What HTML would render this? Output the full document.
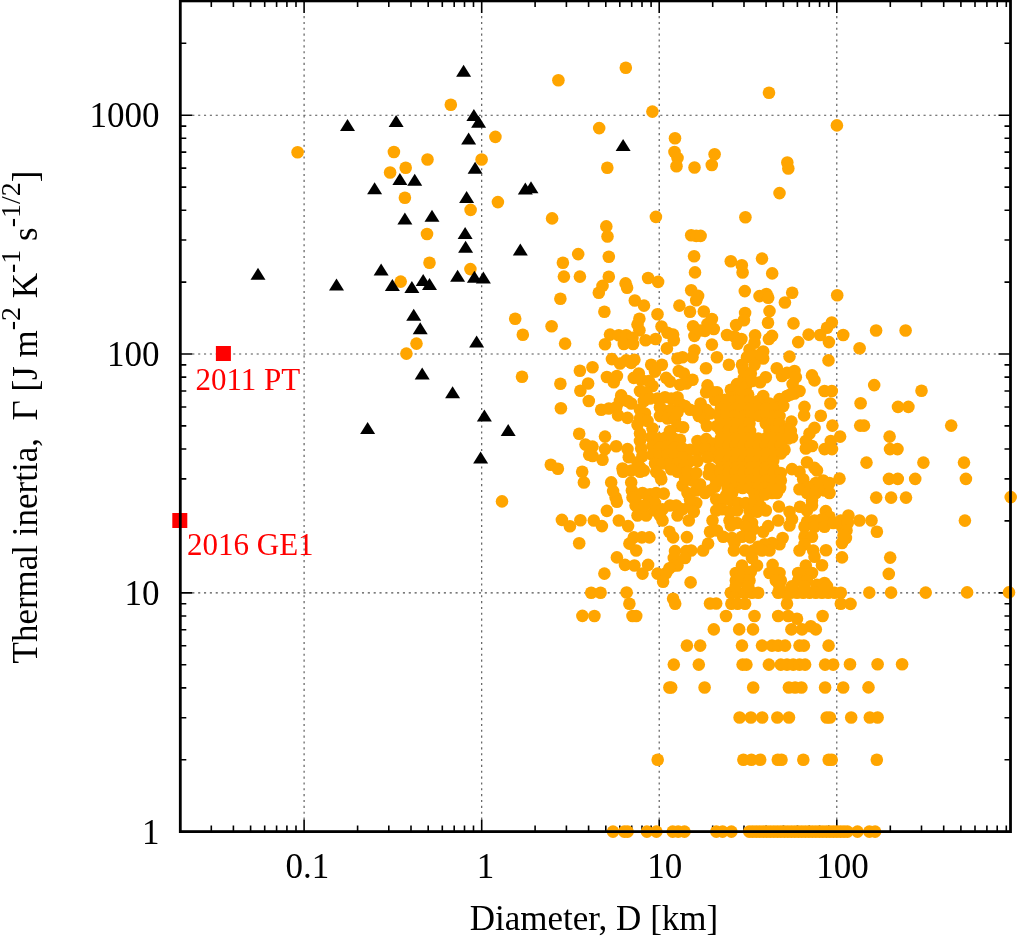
<!DOCTYPE html>
<html><head><meta charset="utf-8"><title>Thermal inertia vs diameter</title>
<style>
html,body{margin:0;padding:0;background:#fff;}
body{width:1017px;height:936px;overflow:hidden;}
svg{display:block;}
text{font-family:"Liberation Serif","Times New Roman",serif;fill:#000;}
</style></head><body>
<svg width="1017" height="936" viewBox="0 0 1017 936">
<rect width="1017" height="936" fill="#fff"/>
<g stroke="#505050" stroke-width="1.1" stroke-dasharray="2.1 3.75" fill="none">
<line x1="304.1" y1="819.6" x2="304.1" y2="12.9"/>
<line x1="481.7" y1="819.6" x2="481.7" y2="12.9"/>
<line x1="659.2" y1="819.6" x2="659.2" y2="12.9"/>
<line x1="836.8" y1="819.6" x2="836.8" y2="12.9"/>
<line x1="192.3" y1="592.9" x2="998.5" y2="592.9"/>
<line x1="192.3" y1="354.0" x2="998.5" y2="354.0"/>
<line x1="192.3" y1="115.2" x2="998.5" y2="115.2"/>
</g>
<path d="M211.3 831.6v-6M211.3 0.9v6M233.4 831.6v-6M233.4 0.9v6M250.6 831.6v-6M250.6 0.9v6M264.7 831.6v-6M264.7 0.9v6M276.6 831.6v-6M276.6 0.9v6M286.9 831.6v-6M286.9 0.9v6M296.0 831.6v-6M296.0 0.9v6M304.1 831.6v-12M304.1 0.9v12M357.6 831.6v-6M357.6 0.9v6M388.8 831.6v-6M388.8 0.9v6M411.0 831.6v-6M411.0 0.9v6M428.2 831.6v-6M428.2 0.9v6M442.3 831.6v-6M442.3 0.9v6M454.2 831.6v-6M454.2 0.9v6M464.5 831.6v-6M464.5 0.9v6M473.5 831.6v-6M473.5 0.9v6M481.7 831.6v-12M481.7 0.9v12M535.1 831.6v-6M535.1 0.9v6M566.4 831.6v-6M566.4 0.9v6M588.6 831.6v-6M588.6 0.9v6M605.8 831.6v-6M605.8 0.9v6M619.8 831.6v-6M619.8 0.9v6M631.7 831.6v-6M631.7 0.9v6M642.0 831.6v-6M642.0 0.9v6M651.1 831.6v-6M651.1 0.9v6M659.2 831.6v-12M659.2 0.9v12M712.7 831.6v-6M712.7 0.9v6M744.0 831.6v-6M744.0 0.9v6M766.1 831.6v-6M766.1 0.9v6M783.4 831.6v-6M783.4 0.9v6M797.4 831.6v-6M797.4 0.9v6M809.3 831.6v-6M809.3 0.9v6M819.6 831.6v-6M819.6 0.9v6M828.7 831.6v-6M828.7 0.9v6M836.8 831.6v-12M836.8 0.9v12M890.3 831.6v-6M890.3 0.9v6M921.5 831.6v-6M921.5 0.9v6M943.7 831.6v-6M943.7 0.9v6M960.9 831.6v-6M960.9 0.9v6M975.0 831.6v-6M975.0 0.9v6M986.9 831.6v-6M986.9 0.9v6M997.2 831.6v-6M997.2 0.9v6M1006.3 831.6v-6M1006.3 0.9v6M180.3 759.8h6M1010.5 759.8h-6M180.3 717.7h6M1010.5 717.7h-6M180.3 687.9h6M1010.5 687.9h-6M180.3 664.8h6M1010.5 664.8h-6M180.3 645.8h6M1010.5 645.8h-6M180.3 629.8h6M1010.5 629.8h-6M180.3 616.0h6M1010.5 616.0h-6M180.3 603.8h6M1010.5 603.8h-6M180.3 592.9h12M1010.5 592.9h-12M180.3 520.9h6M1010.5 520.9h-6M180.3 478.9h6M1010.5 478.9h-6M180.3 449.0h6M1010.5 449.0h-6M180.3 425.9h6M1010.5 425.9h-6M180.3 407.0h6M1010.5 407.0h-6M180.3 391.0h6M1010.5 391.0h-6M180.3 377.1h6M1010.5 377.1h-6M180.3 364.9h6M1010.5 364.9h-6M180.3 354.0h12M1010.5 354.0h-12M180.3 282.1h6M1010.5 282.1h-6M180.3 240.0h6M1010.5 240.0h-6M180.3 210.2h6M1010.5 210.2h-6M180.3 187.1h6M1010.5 187.1h-6M180.3 168.1h6M1010.5 168.1h-6M180.3 152.1h6M1010.5 152.1h-6M180.3 138.3h6M1010.5 138.3h-6M180.3 126.1h6M1010.5 126.1h-6M180.3 115.2h12M1010.5 115.2h-12M180.3 43.2h6M1010.5 43.2h-6" stroke="#000" stroke-width="1.6" fill="none"/>
<g fill="#ffa500">
<circle cx="607.5" cy="236.5" r="6.3"/><circle cx="608.8" cy="256.8" r="6.3"/><circle cx="608.8" cy="276.8" r="6.3"/><circle cx="602.5" cy="285.9" r="6.3"/><circle cx="598.8" cy="292.8" r="6.3"/><circle cx="604.4" cy="311.8" r="6.3"/><circle cx="625.6" cy="283.4" r="6.3"/><circle cx="627.1" cy="287.8" r="6.3"/><circle cx="648.1" cy="278.0" r="6.3"/><circle cx="658.1" cy="281.9" r="6.3"/><circle cx="634.8" cy="300.5" r="6.3"/><circle cx="644.0" cy="305.6" r="6.3"/><circle cx="657.5" cy="314.2" r="6.3"/><circle cx="639.4" cy="318.8" r="6.3"/><circle cx="637.5" cy="324.6" r="6.3"/><circle cx="639.4" cy="330.2" r="6.3"/><circle cx="661.5" cy="326.5" r="6.3"/><circle cx="667.5" cy="332.8" r="6.3"/><circle cx="673.1" cy="334.6" r="6.3"/><circle cx="673.8" cy="340.2" r="6.3"/><circle cx="666.9" cy="348.4" r="6.3"/><circle cx="610.0" cy="334.6" r="6.3"/><circle cx="618.8" cy="335.2" r="6.3"/><circle cx="626.2" cy="335.2" r="6.3"/><circle cx="632.5" cy="337.8" r="6.3"/><circle cx="605.0" cy="344.2" r="6.3"/><circle cx="623.8" cy="344.0" r="6.3"/><circle cx="633.1" cy="344.0" r="6.3"/><circle cx="645.6" cy="340.2" r="6.3"/><circle cx="655.6" cy="339.0" r="6.3"/><circle cx="691.2" cy="235.2" r="6.3"/><circle cx="696.2" cy="235.9" r="6.3"/><circle cx="700.6" cy="235.9" r="6.3"/><circle cx="694.1" cy="256.2" r="6.3"/><circle cx="695.0" cy="272.4" r="6.3"/><circle cx="691.2" cy="290.2" r="6.3"/><circle cx="698.1" cy="295.9" r="6.3"/><circle cx="696.2" cy="300.2" r="6.3"/><circle cx="679.4" cy="305.6" r="6.3"/><circle cx="690.0" cy="311.8" r="6.3"/><circle cx="703.8" cy="311.5" r="6.3"/><circle cx="711.9" cy="319.0" r="6.3"/><circle cx="707.5" cy="324.0" r="6.3"/><circle cx="713.8" cy="329.0" r="6.3"/><circle cx="705.0" cy="330.9" r="6.3"/><circle cx="693.1" cy="326.2" r="6.3"/><circle cx="694.4" cy="335.9" r="6.3"/><circle cx="711.9" cy="344.6" r="6.3"/><circle cx="694.4" cy="350.2" r="6.3"/><circle cx="730.8" cy="261.2" r="6.3"/><circle cx="741.8" cy="265.2" r="6.3"/><circle cx="742.6" cy="272.5" r="6.3"/><circle cx="762.0" cy="258.6" r="6.3"/><circle cx="772.2" cy="273.4" r="6.3"/><circle cx="744.8" cy="291.1" r="6.3"/><circle cx="759.5" cy="296.1" r="6.3"/><circle cx="766.4" cy="294.0" r="6.3"/><circle cx="768.2" cy="297.8" r="6.3"/><circle cx="792.2" cy="292.8" r="6.3"/><circle cx="784.9" cy="302.5" r="6.3"/><circle cx="837.2" cy="295.2" r="6.3"/><circle cx="745.1" cy="313.0" r="6.3"/><circle cx="743.9" cy="320.2" r="6.3"/><circle cx="736.1" cy="325.0" r="6.3"/><circle cx="769.5" cy="311.1" r="6.3"/><circle cx="768.0" cy="322.8" r="6.3"/><circle cx="793.5" cy="323.4" r="6.3"/><circle cx="727.0" cy="335.0" r="6.3"/><circle cx="734.5" cy="336.5" r="6.3"/><circle cx="741.4" cy="339.0" r="6.3"/><circle cx="737.6" cy="343.8" r="6.3"/><circle cx="755.1" cy="335.2" r="6.3"/><circle cx="754.5" cy="342.8" r="6.3"/><circle cx="749.5" cy="349.6" r="6.3"/><circle cx="772.0" cy="335.9" r="6.3"/><circle cx="768.9" cy="339.0" r="6.3"/><circle cx="798.2" cy="342.1" r="6.3"/><circle cx="808.6" cy="334.6" r="6.3"/><circle cx="820.1" cy="335.0" r="6.3"/><circle cx="827.0" cy="327.8" r="6.3"/><circle cx="831.8" cy="322.5" r="6.3"/><circle cx="828.9" cy="342.1" r="6.3"/><circle cx="843.2" cy="335.0" r="6.3"/><circle cx="763.2" cy="351.5" r="6.3"/><circle cx="592.5" cy="367.2" r="6.3"/><circle cx="588.1" cy="383.5" r="6.3"/><circle cx="588.8" cy="401.0" r="6.3"/><circle cx="611.9" cy="359.1" r="6.3"/><circle cx="620.0" cy="363.5" r="6.3"/><circle cx="626.2" cy="360.4" r="6.3"/><circle cx="631.2" cy="362.9" r="6.3"/><circle cx="634.4" cy="359.8" r="6.3"/><circle cx="606.9" cy="377.0" r="6.3"/><circle cx="616.9" cy="376.0" r="6.3"/><circle cx="613.8" cy="382.2" r="6.3"/><circle cx="651.2" cy="364.8" r="6.3"/><circle cx="661.9" cy="364.8" r="6.3"/><circle cx="655.0" cy="371.6" r="6.3"/><circle cx="633.8" cy="377.9" r="6.3"/><circle cx="638.8" cy="373.5" r="6.3"/><circle cx="641.2" cy="379.8" r="6.3"/><circle cx="648.8" cy="381.0" r="6.3"/><circle cx="652.5" cy="386.0" r="6.3"/><circle cx="640.0" cy="391.0" r="6.3"/><circle cx="646.2" cy="392.2" r="6.3"/><circle cx="621.2" cy="395.4" r="6.3"/><circle cx="620.0" cy="401.0" r="6.3"/><circle cx="627.5" cy="401.0" r="6.3"/><circle cx="631.2" cy="403.5" r="6.3"/><circle cx="601.2" cy="409.8" r="6.3"/><circle cx="608.8" cy="408.5" r="6.3"/><circle cx="616.2" cy="407.2" r="6.3"/><circle cx="618.1" cy="415.4" r="6.3"/><circle cx="627.5" cy="417.9" r="6.3"/><circle cx="677.5" cy="358.5" r="6.3"/><circle cx="682.5" cy="357.2" r="6.3"/><circle cx="692.5" cy="357.2" r="6.3"/><circle cx="678.8" cy="371.0" r="6.3"/><circle cx="683.8" cy="373.5" r="6.3"/><circle cx="692.5" cy="379.8" r="6.3"/><circle cx="686.2" cy="383.5" r="6.3"/><circle cx="680.0" cy="384.8" r="6.3"/><circle cx="670.0" cy="381.6" r="6.3"/><circle cx="666.2" cy="377.9" r="6.3"/><circle cx="706.0" cy="368.2" r="6.3"/><circle cx="716.9" cy="357.2" r="6.3"/><circle cx="707.5" cy="385.4" r="6.3"/><circle cx="706.2" cy="392.2" r="6.3"/><circle cx="713.1" cy="392.2" r="6.3"/><circle cx="715.0" cy="399.8" r="6.3"/><circle cx="700.6" cy="403.5" r="6.3"/><circle cx="706.2" cy="409.8" r="6.3"/><circle cx="710.0" cy="413.5" r="6.3"/><circle cx="703.8" cy="418.5" r="6.3"/><circle cx="706.9" cy="426.0" r="6.3"/><circle cx="698.8" cy="416.0" r="6.3"/><circle cx="643.8" cy="401.0" r="6.3"/><circle cx="650.0" cy="398.5" r="6.3"/><circle cx="657.5" cy="398.5" r="6.3"/><circle cx="665.0" cy="397.2" r="6.3"/><circle cx="671.2" cy="398.5" r="6.3"/><circle cx="677.5" cy="397.2" r="6.3"/><circle cx="680.0" cy="403.5" r="6.3"/><circle cx="685.0" cy="406.0" r="6.3"/><circle cx="690.0" cy="409.8" r="6.3"/><circle cx="696.2" cy="411.0" r="6.3"/><circle cx="660.0" cy="407.2" r="6.3"/><circle cx="665.0" cy="411.0" r="6.3"/><circle cx="671.2" cy="409.8" r="6.3"/><circle cx="677.5" cy="412.2" r="6.3"/><circle cx="660.0" cy="416.0" r="6.3"/><circle cx="667.5" cy="418.5" r="6.3"/><circle cx="675.0" cy="419.1" r="6.3"/><circle cx="640.0" cy="409.8" r="6.3"/><circle cx="645.0" cy="413.5" r="6.3"/><circle cx="640.0" cy="418.5" r="6.3"/><circle cx="647.5" cy="421.0" r="6.3"/><circle cx="637.5" cy="424.8" r="6.3"/><circle cx="652.5" cy="428.5" r="6.3"/><circle cx="677.5" cy="426.0" r="6.3"/><circle cx="683.1" cy="427.2" r="6.3"/><circle cx="670.0" cy="431.0" r="6.3"/><circle cx="605.0" cy="436.6" r="6.3"/><circle cx="592.5" cy="446.6" r="6.3"/><circle cx="605.0" cy="449.1" r="6.3"/><circle cx="616.2" cy="446.2" r="6.3"/><circle cx="627.5" cy="449.1" r="6.3"/><circle cx="628.8" cy="457.2" r="6.3"/><circle cx="602.5" cy="459.8" r="6.3"/><circle cx="592.5" cy="456.0" r="6.3"/><circle cx="640.0" cy="433.5" r="6.3"/><circle cx="640.0" cy="441.0" r="6.3"/><circle cx="641.2" cy="448.5" r="6.3"/><circle cx="642.5" cy="456.0" r="6.3"/><circle cx="637.5" cy="462.2" r="6.3"/><circle cx="640.0" cy="467.2" r="6.3"/><circle cx="651.2" cy="437.2" r="6.3"/><circle cx="658.8" cy="438.5" r="6.3"/><circle cx="666.2" cy="437.2" r="6.3"/><circle cx="673.8" cy="438.5" r="6.3"/><circle cx="680.0" cy="439.8" r="6.3"/><circle cx="652.5" cy="446.0" r="6.3"/><circle cx="660.0" cy="447.2" r="6.3"/><circle cx="667.5" cy="446.0" r="6.3"/><circle cx="675.0" cy="447.2" r="6.3"/><circle cx="682.5" cy="448.5" r="6.3"/><circle cx="690.0" cy="449.8" r="6.3"/><circle cx="697.5" cy="451.0" r="6.3"/><circle cx="652.5" cy="454.8" r="6.3"/><circle cx="660.0" cy="456.0" r="6.3"/><circle cx="667.5" cy="454.8" r="6.3"/><circle cx="675.0" cy="456.0" r="6.3"/><circle cx="682.5" cy="457.2" r="6.3"/><circle cx="690.0" cy="461.0" r="6.3"/><circle cx="655.0" cy="463.5" r="6.3"/><circle cx="662.5" cy="463.5" r="6.3"/><circle cx="670.0" cy="463.5" r="6.3"/><circle cx="677.5" cy="463.5" r="6.3"/><circle cx="685.0" cy="464.8" r="6.3"/><circle cx="697.5" cy="461.0" r="6.3"/><circle cx="697.5" cy="441.0" r="6.3"/><circle cx="706.2" cy="439.1" r="6.3"/><circle cx="712.5" cy="443.5" r="6.3"/><circle cx="705.0" cy="448.5" r="6.3"/><circle cx="713.8" cy="452.2" r="6.3"/><circle cx="716.9" cy="426.0" r="6.3"/><circle cx="716.9" cy="457.2" r="6.3"/><circle cx="622.5" cy="468.5" r="6.3"/><circle cx="710.0" cy="468.5" r="6.3"/><circle cx="707.5" cy="457.2" r="6.3"/><circle cx="728.9" cy="364.8" r="6.3"/><circle cx="747.0" cy="357.2" r="6.3"/><circle cx="754.5" cy="356.0" r="6.3"/><circle cx="763.2" cy="358.5" r="6.3"/><circle cx="754.5" cy="364.8" r="6.3"/><circle cx="742.0" cy="364.8" r="6.3"/><circle cx="789.5" cy="356.6" r="6.3"/><circle cx="828.5" cy="360.4" r="6.3"/><circle cx="776.8" cy="368.2" r="6.3"/><circle cx="782.0" cy="376.0" r="6.3"/><circle cx="787.0" cy="372.9" r="6.3"/><circle cx="794.5" cy="371.0" r="6.3"/><circle cx="795.8" cy="377.2" r="6.3"/><circle cx="792.6" cy="384.1" r="6.3"/><circle cx="765.8" cy="377.2" r="6.3"/><circle cx="760.1" cy="382.2" r="6.3"/><circle cx="812.0" cy="375.4" r="6.3"/><circle cx="814.5" cy="380.4" r="6.3"/><circle cx="824.5" cy="391.0" r="6.3"/><circle cx="831.8" cy="391.0" r="6.3"/><circle cx="830.4" cy="403.5" r="6.3"/><circle cx="799.5" cy="391.0" r="6.3"/><circle cx="794.5" cy="393.5" r="6.3"/><circle cx="787.0" cy="396.0" r="6.3"/><circle cx="779.5" cy="399.1" r="6.3"/><circle cx="804.5" cy="406.9" r="6.3"/><circle cx="804.1" cy="415.4" r="6.3"/><circle cx="820.8" cy="415.8" r="6.3"/><circle cx="832.4" cy="425.6" r="6.3"/><circle cx="840.1" cy="436.6" r="6.3"/><circle cx="791.4" cy="421.6" r="6.3"/><circle cx="814.5" cy="427.9" r="6.3"/><circle cx="809.5" cy="433.5" r="6.3"/><circle cx="805.8" cy="441.0" r="6.3"/><circle cx="812.0" cy="446.0" r="6.3"/><circle cx="805.8" cy="448.5" r="6.3"/><circle cx="830.8" cy="441.0" r="6.3"/><circle cx="824.5" cy="449.1" r="6.3"/><circle cx="832.0" cy="449.1" r="6.3"/><circle cx="807.0" cy="462.2" r="6.3"/><circle cx="814.5" cy="467.9" r="6.3"/><circle cx="792.0" cy="469.1" r="6.3"/><circle cx="743.9" cy="377.9" r="6.3"/><circle cx="737.0" cy="384.1" r="6.3"/><circle cx="730.8" cy="389.8" r="6.3"/><circle cx="745.8" cy="387.2" r="6.3"/><circle cx="717.0" cy="392.2" r="6.3"/><circle cx="763.2" cy="396.0" r="6.3"/><circle cx="758.2" cy="401.0" r="6.3"/><circle cx="769.5" cy="403.5" r="6.3"/><circle cx="777.0" cy="407.2" r="6.3"/><circle cx="783.2" cy="406.0" r="6.3"/><circle cx="787.0" cy="428.5" r="6.3"/><circle cx="792.0" cy="437.2" r="6.3"/><circle cx="784.5" cy="449.8" r="6.3"/><circle cx="743.9" cy="371.0" r="6.3"/><circle cx="748.2" cy="394.8" r="6.3"/><circle cx="739.5" cy="393.5" r="6.3"/><circle cx="732.0" cy="397.2" r="6.3"/><circle cx="724.5" cy="399.8" r="6.3"/><circle cx="719.5" cy="401.0" r="6.3"/><circle cx="727.0" cy="401.0" r="6.3"/><circle cx="734.5" cy="401.0" r="6.3"/><circle cx="742.0" cy="401.0" r="6.3"/><circle cx="749.5" cy="401.0" r="6.3"/><circle cx="720.8" cy="408.5" r="6.3"/><circle cx="728.2" cy="408.5" r="6.3"/><circle cx="735.8" cy="408.5" r="6.3"/><circle cx="743.2" cy="408.5" r="6.3"/><circle cx="750.8" cy="408.5" r="6.3"/><circle cx="758.2" cy="408.5" r="6.3"/><circle cx="765.8" cy="408.5" r="6.3"/><circle cx="773.2" cy="408.5" r="6.3"/><circle cx="719.5" cy="416.0" r="6.3"/><circle cx="727.0" cy="416.0" r="6.3"/><circle cx="734.5" cy="416.0" r="6.3"/><circle cx="744.5" cy="416.0" r="6.3"/><circle cx="752.0" cy="416.0" r="6.3"/><circle cx="759.5" cy="416.0" r="6.3"/><circle cx="767.0" cy="416.0" r="6.3"/><circle cx="774.5" cy="416.0" r="6.3"/><circle cx="779.5" cy="416.0" r="6.3"/><circle cx="720.8" cy="423.5" r="6.3"/><circle cx="728.2" cy="423.5" r="6.3"/><circle cx="735.8" cy="423.5" r="6.3"/><circle cx="743.2" cy="423.5" r="6.3"/><circle cx="749.5" cy="423.5" r="6.3"/><circle cx="765.8" cy="423.5" r="6.3"/><circle cx="772.0" cy="423.5" r="6.3"/><circle cx="779.5" cy="423.5" r="6.3"/><circle cx="720.8" cy="431.0" r="6.3"/><circle cx="728.2" cy="431.0" r="6.3"/><circle cx="735.8" cy="431.0" r="6.3"/><circle cx="743.2" cy="431.0" r="6.3"/><circle cx="750.1" cy="431.0" r="6.3"/><circle cx="769.5" cy="431.0" r="6.3"/><circle cx="777.0" cy="431.0" r="6.3"/><circle cx="784.5" cy="431.0" r="6.3"/><circle cx="790.8" cy="431.0" r="6.3"/><circle cx="720.8" cy="438.5" r="6.3"/><circle cx="728.2" cy="438.5" r="6.3"/><circle cx="735.8" cy="438.5" r="6.3"/><circle cx="743.2" cy="438.5" r="6.3"/><circle cx="750.8" cy="438.5" r="6.3"/><circle cx="758.2" cy="438.5" r="6.3"/><circle cx="765.8" cy="438.5" r="6.3"/><circle cx="773.2" cy="438.5" r="6.3"/><circle cx="780.8" cy="438.5" r="6.3"/><circle cx="788.2" cy="438.5" r="6.3"/><circle cx="720.8" cy="446.0" r="6.3"/><circle cx="728.2" cy="446.0" r="6.3"/><circle cx="735.8" cy="446.0" r="6.3"/><circle cx="743.2" cy="446.0" r="6.3"/><circle cx="750.8" cy="446.0" r="6.3"/><circle cx="758.2" cy="446.0" r="6.3"/><circle cx="765.8" cy="446.0" r="6.3"/><circle cx="773.2" cy="446.0" r="6.3"/><circle cx="780.8" cy="446.0" r="6.3"/><circle cx="720.8" cy="453.5" r="6.3"/><circle cx="728.2" cy="453.5" r="6.3"/><circle cx="735.8" cy="453.5" r="6.3"/><circle cx="743.2" cy="453.5" r="6.3"/><circle cx="750.8" cy="453.5" r="6.3"/><circle cx="758.2" cy="453.5" r="6.3"/><circle cx="765.8" cy="453.5" r="6.3"/><circle cx="773.2" cy="453.5" r="6.3"/><circle cx="780.8" cy="453.5" r="6.3"/><circle cx="720.8" cy="461.0" r="6.3"/><circle cx="728.2" cy="461.0" r="6.3"/><circle cx="735.8" cy="461.0" r="6.3"/><circle cx="743.2" cy="461.0" r="6.3"/><circle cx="750.8" cy="461.0" r="6.3"/><circle cx="758.2" cy="461.0" r="6.3"/><circle cx="765.8" cy="461.0" r="6.3"/><circle cx="773.2" cy="461.0" r="6.3"/><circle cx="720.8" cy="467.9" r="6.3"/><circle cx="728.2" cy="467.9" r="6.3"/><circle cx="735.8" cy="467.9" r="6.3"/><circle cx="743.2" cy="467.9" r="6.3"/><circle cx="750.8" cy="467.9" r="6.3"/><circle cx="758.2" cy="467.9" r="6.3"/><circle cx="765.8" cy="467.9" r="6.3"/><circle cx="773.2" cy="467.9" r="6.3"/><circle cx="859.6" cy="348.2" r="6.3"/><circle cx="874.2" cy="385.1" r="6.3"/><circle cx="921.5" cy="390.8" r="6.3"/><circle cx="860.6" cy="403.2" r="6.3"/><circle cx="898.0" cy="406.9" r="6.3"/><circle cx="908.4" cy="406.9" r="6.3"/><circle cx="860.2" cy="425.6" r="6.3"/><circle cx="864.0" cy="425.6" r="6.3"/><circle cx="951.2" cy="425.6" r="6.3"/><circle cx="889.6" cy="436.6" r="6.3"/><circle cx="890.0" cy="449.1" r="6.3"/><circle cx="897.5" cy="449.1" r="6.3"/><circle cx="866.5" cy="462.6" r="6.3"/><circle cx="923.4" cy="462.6" r="6.3"/><circle cx="964.0" cy="462.6" r="6.3"/><circle cx="623.1" cy="471.8" r="6.3"/><circle cx="631.2" cy="470.5" r="6.3"/><circle cx="640.0" cy="471.8" r="6.3"/><circle cx="643.8" cy="470.5" r="6.3"/><circle cx="611.2" cy="482.4" r="6.3"/><circle cx="613.1" cy="491.1" r="6.3"/><circle cx="615.6" cy="497.4" r="6.3"/><circle cx="616.9" cy="501.8" r="6.3"/><circle cx="606.9" cy="510.9" r="6.3"/><circle cx="593.8" cy="520.5" r="6.3"/><circle cx="601.9" cy="526.1" r="6.3"/><circle cx="618.8" cy="520.5" r="6.3"/><circle cx="628.1" cy="526.1" r="6.3"/><circle cx="631.2" cy="482.4" r="6.3"/><circle cx="631.9" cy="490.5" r="6.3"/><circle cx="632.5" cy="497.4" r="6.3"/><circle cx="635.6" cy="505.5" r="6.3"/><circle cx="637.5" cy="515.5" r="6.3"/><circle cx="642.5" cy="493.0" r="6.3"/><circle cx="650.0" cy="494.2" r="6.3"/><circle cx="656.2" cy="493.0" r="6.3"/><circle cx="663.8" cy="493.6" r="6.3"/><circle cx="648.8" cy="501.8" r="6.3"/><circle cx="655.0" cy="503.0" r="6.3"/><circle cx="646.2" cy="515.5" r="6.3"/><circle cx="655.0" cy="510.5" r="6.3"/><circle cx="662.5" cy="509.2" r="6.3"/><circle cx="662.5" cy="520.5" r="6.3"/><circle cx="660.0" cy="515.5" r="6.3"/><circle cx="656.2" cy="471.8" r="6.3"/><circle cx="660.0" cy="475.5" r="6.3"/><circle cx="661.2" cy="479.2" r="6.3"/><circle cx="670.0" cy="505.5" r="6.3"/><circle cx="676.2" cy="505.5" r="6.3"/><circle cx="677.5" cy="515.5" r="6.3"/><circle cx="682.5" cy="509.2" r="6.3"/><circle cx="690.0" cy="505.5" r="6.3"/><circle cx="696.2" cy="503.0" r="6.3"/><circle cx="688.8" cy="520.5" r="6.3"/><circle cx="693.8" cy="511.8" r="6.3"/><circle cx="682.5" cy="485.5" r="6.3"/><circle cx="687.5" cy="493.0" r="6.3"/><circle cx="690.0" cy="499.2" r="6.3"/><circle cx="696.2" cy="490.5" r="6.3"/><circle cx="700.0" cy="484.2" r="6.3"/><circle cx="692.5" cy="480.5" r="6.3"/><circle cx="685.0" cy="478.0" r="6.3"/><circle cx="677.5" cy="471.8" r="6.3"/><circle cx="671.2" cy="469.2" r="6.3"/><circle cx="687.5" cy="471.8" r="6.3"/><circle cx="696.2" cy="473.0" r="6.3"/><circle cx="708.8" cy="474.2" r="6.3"/><circle cx="715.0" cy="478.0" r="6.3"/><circle cx="710.0" cy="490.5" r="6.3"/><circle cx="715.0" cy="486.8" r="6.3"/><circle cx="705.0" cy="493.0" r="6.3"/><circle cx="716.2" cy="499.2" r="6.3"/><circle cx="716.2" cy="510.5" r="6.3"/><circle cx="712.5" cy="520.5" r="6.3"/><circle cx="710.0" cy="531.8" r="6.3"/><circle cx="669.4" cy="531.8" r="6.3"/><circle cx="673.1" cy="537.4" r="6.3"/><circle cx="686.9" cy="537.1" r="6.3"/><circle cx="633.8" cy="537.4" r="6.3"/><circle cx="641.9" cy="537.4" r="6.3"/><circle cx="649.4" cy="537.4" r="6.3"/><circle cx="629.4" cy="543.6" r="6.3"/><circle cx="636.2" cy="550.5" r="6.3"/><circle cx="616.9" cy="557.4" r="6.3"/><circle cx="625.0" cy="564.9" r="6.3"/><circle cx="634.4" cy="565.5" r="6.3"/><circle cx="648.1" cy="564.9" r="6.3"/><circle cx="642.5" cy="573.6" r="6.3"/><circle cx="604.4" cy="573.6" r="6.3"/><circle cx="657.5" cy="573.6" r="6.3"/><circle cx="666.2" cy="573.0" r="6.3"/><circle cx="663.1" cy="581.8" r="6.3"/><circle cx="675.0" cy="551.1" r="6.3"/><circle cx="686.2" cy="551.1" r="6.3"/><circle cx="691.2" cy="550.5" r="6.3"/><circle cx="673.8" cy="558.0" r="6.3"/><circle cx="685.0" cy="558.0" r="6.3"/><circle cx="673.8" cy="565.5" r="6.3"/><circle cx="677.5" cy="565.5" r="6.3"/><circle cx="708.1" cy="543.6" r="6.3"/><circle cx="703.1" cy="550.5" r="6.3"/><circle cx="690.6" cy="582.4" r="6.3"/><circle cx="772.0" cy="493.0" r="6.3"/><circle cx="777.0" cy="493.0" r="6.3"/><circle cx="799.5" cy="471.8" r="6.3"/><circle cx="803.2" cy="479.2" r="6.3"/><circle cx="817.0" cy="470.5" r="6.3"/><circle cx="823.2" cy="480.5" r="6.3"/><circle cx="815.8" cy="483.0" r="6.3"/><circle cx="808.2" cy="486.8" r="6.3"/><circle cx="799.5" cy="489.2" r="6.3"/><circle cx="807.0" cy="493.0" r="6.3"/><circle cx="815.8" cy="493.0" r="6.3"/><circle cx="824.5" cy="490.5" r="6.3"/><circle cx="829.5" cy="493.0" r="6.3"/><circle cx="829.5" cy="483.0" r="6.3"/><circle cx="812.0" cy="500.5" r="6.3"/><circle cx="839.5" cy="478.6" r="6.3"/><circle cx="723.2" cy="499.2" r="6.3"/><circle cx="730.8" cy="500.5" r="6.3"/><circle cx="738.2" cy="503.0" r="6.3"/><circle cx="745.8" cy="503.0" r="6.3"/><circle cx="754.5" cy="501.8" r="6.3"/><circle cx="760.8" cy="506.8" r="6.3"/><circle cx="765.8" cy="510.5" r="6.3"/><circle cx="722.0" cy="509.2" r="6.3"/><circle cx="729.5" cy="511.8" r="6.3"/><circle cx="737.0" cy="510.5" r="6.3"/><circle cx="749.5" cy="510.5" r="6.3"/><circle cx="757.0" cy="511.8" r="6.3"/><circle cx="729.5" cy="520.5" r="6.3"/><circle cx="737.0" cy="523.0" r="6.3"/><circle cx="730.8" cy="525.5" r="6.3"/><circle cx="748.2" cy="519.2" r="6.3"/><circle cx="752.0" cy="523.0" r="6.3"/><circle cx="753.2" cy="529.2" r="6.3"/><circle cx="745.8" cy="526.8" r="6.3"/><circle cx="778.9" cy="506.5" r="6.3"/><circle cx="789.5" cy="511.8" r="6.3"/><circle cx="778.2" cy="520.5" r="6.3"/><circle cx="792.0" cy="519.2" r="6.3"/><circle cx="789.5" cy="525.5" r="6.3"/><circle cx="768.2" cy="526.1" r="6.3"/><circle cx="763.2" cy="531.8" r="6.3"/><circle cx="800.1" cy="506.8" r="6.3"/><circle cx="807.0" cy="510.5" r="6.3"/><circle cx="812.0" cy="505.5" r="6.3"/><circle cx="825.8" cy="511.1" r="6.3"/><circle cx="829.5" cy="516.8" r="6.3"/><circle cx="822.0" cy="519.2" r="6.3"/><circle cx="814.5" cy="520.5" r="6.3"/><circle cx="807.0" cy="521.8" r="6.3"/><circle cx="804.5" cy="526.8" r="6.3"/><circle cx="814.5" cy="526.8" r="6.3"/><circle cx="824.5" cy="526.8" r="6.3"/><circle cx="833.2" cy="523.0" r="6.3"/><circle cx="840.8" cy="520.5" r="6.3"/><circle cx="842.0" cy="526.8" r="6.3"/><circle cx="717.0" cy="530.5" r="6.3"/><circle cx="723.2" cy="536.8" r="6.3"/><circle cx="732.0" cy="538.0" r="6.3"/><circle cx="742.0" cy="536.8" r="6.3"/><circle cx="750.1" cy="537.4" r="6.3"/><circle cx="734.5" cy="543.0" r="6.3"/><circle cx="733.9" cy="550.5" r="6.3"/><circle cx="745.1" cy="550.5" r="6.3"/><circle cx="782.6" cy="538.0" r="6.3"/><circle cx="779.5" cy="544.2" r="6.3"/><circle cx="772.0" cy="543.0" r="6.3"/><circle cx="764.5" cy="544.2" r="6.3"/><circle cx="758.2" cy="546.8" r="6.3"/><circle cx="769.5" cy="550.5" r="6.3"/><circle cx="753.2" cy="550.5" r="6.3"/><circle cx="762.0" cy="550.5" r="6.3"/><circle cx="804.5" cy="536.8" r="6.3"/><circle cx="812.0" cy="536.8" r="6.3"/><circle cx="804.5" cy="544.2" r="6.3"/><circle cx="799.5" cy="550.5" r="6.3"/><circle cx="813.2" cy="550.5" r="6.3"/><circle cx="814.5" cy="556.8" r="6.3"/><circle cx="826.0" cy="550.2" r="6.3"/><circle cx="842.0" cy="543.0" r="6.3"/><circle cx="842.0" cy="557.4" r="6.3"/><circle cx="822.0" cy="565.2" r="6.3"/><circle cx="805.8" cy="565.5" r="6.3"/><circle cx="798.2" cy="573.0" r="6.3"/><circle cx="804.5" cy="574.2" r="6.3"/><circle cx="812.0" cy="573.0" r="6.3"/><circle cx="798.2" cy="580.5" r="6.3"/><circle cx="807.0" cy="580.5" r="6.3"/><circle cx="824.5" cy="583.0" r="6.3"/><circle cx="817.0" cy="584.9" r="6.3"/><circle cx="752.0" cy="558.0" r="6.3"/><circle cx="742.0" cy="565.5" r="6.3"/><circle cx="757.0" cy="565.5" r="6.3"/><circle cx="735.8" cy="573.0" r="6.3"/><circle cx="743.2" cy="573.0" r="6.3"/><circle cx="750.8" cy="571.8" r="6.3"/><circle cx="735.8" cy="580.5" r="6.3"/><circle cx="743.2" cy="580.5" r="6.3"/><circle cx="749.5" cy="580.5" r="6.3"/><circle cx="772.6" cy="564.9" r="6.3"/><circle cx="769.5" cy="573.0" r="6.3"/><circle cx="779.5" cy="573.0" r="6.3"/><circle cx="780.8" cy="580.5" r="6.3"/><circle cx="775.8" cy="580.5" r="6.3"/><circle cx="720.8" cy="473.0" r="6.3"/><circle cx="728.2" cy="473.0" r="6.3"/><circle cx="735.8" cy="473.0" r="6.3"/><circle cx="743.2" cy="473.0" r="6.3"/><circle cx="750.8" cy="473.0" r="6.3"/><circle cx="758.2" cy="473.0" r="6.3"/><circle cx="765.8" cy="473.0" r="6.3"/><circle cx="773.2" cy="473.0" r="6.3"/><circle cx="780.8" cy="473.0" r="6.3"/><circle cx="720.8" cy="480.5" r="6.3"/><circle cx="728.2" cy="480.5" r="6.3"/><circle cx="735.8" cy="480.5" r="6.3"/><circle cx="743.2" cy="480.5" r="6.3"/><circle cx="750.8" cy="480.5" r="6.3"/><circle cx="758.2" cy="480.5" r="6.3"/><circle cx="765.8" cy="480.5" r="6.3"/><circle cx="773.2" cy="480.5" r="6.3"/><circle cx="780.8" cy="480.5" r="6.3"/><circle cx="727.6" cy="488.0" r="6.3"/><circle cx="735.1" cy="488.0" r="6.3"/><circle cx="742.6" cy="488.0" r="6.3"/><circle cx="750.1" cy="488.0" r="6.3"/><circle cx="757.6" cy="488.0" r="6.3"/><circle cx="765.1" cy="488.0" r="6.3"/><circle cx="772.6" cy="488.0" r="6.3"/><circle cx="780.1" cy="488.0" r="6.3"/><circle cx="591.2" cy="592.8" r="6.3"/><circle cx="600.6" cy="592.8" r="6.3"/><circle cx="626.6" cy="592.5" r="6.3"/><circle cx="629.4" cy="603.8" r="6.3"/><circle cx="632.5" cy="616.0" r="6.3"/><circle cx="636.2" cy="616.0" r="6.3"/><circle cx="594.4" cy="616.0" r="6.3"/><circle cx="673.1" cy="598.8" r="6.3"/><circle cx="675.2" cy="603.8" r="6.3"/><circle cx="710.0" cy="603.5" r="6.3"/><circle cx="716.2" cy="603.5" r="6.3"/><circle cx="713.8" cy="629.4" r="6.3"/><circle cx="686.9" cy="645.6" r="6.3"/><circle cx="700.2" cy="645.6" r="6.3"/><circle cx="673.8" cy="664.6" r="6.3"/><circle cx="698.8" cy="664.6" r="6.3"/><circle cx="669.4" cy="687.5" r="6.3"/><circle cx="671.2" cy="687.5" r="6.3"/><circle cx="704.6" cy="687.5" r="6.3"/><circle cx="797.0" cy="618.8" r="6.3"/><circle cx="810.8" cy="626.2" r="6.3"/><circle cx="730.8" cy="592.8" r="6.3"/><circle cx="737.0" cy="592.8" r="6.3"/><circle cx="744.5" cy="592.8" r="6.3"/><circle cx="752.0" cy="592.8" r="6.3"/><circle cx="758.2" cy="592.8" r="6.3"/><circle cx="778.2" cy="592.8" r="6.3"/><circle cx="784.5" cy="592.8" r="6.3"/><circle cx="790.8" cy="592.8" r="6.3"/><circle cx="797.0" cy="592.8" r="6.3"/><circle cx="803.2" cy="592.8" r="6.3"/><circle cx="809.5" cy="592.8" r="6.3"/><circle cx="815.8" cy="592.8" r="6.3"/><circle cx="822.0" cy="592.8" r="6.3"/><circle cx="828.2" cy="592.8" r="6.3"/><circle cx="834.5" cy="592.8" r="6.3"/><circle cx="840.8" cy="592.8" r="6.3"/><circle cx="735.8" cy="586.2" r="6.3"/><circle cx="748.2" cy="586.2" r="6.3"/><circle cx="779.5" cy="586.2" r="6.3"/><circle cx="792.0" cy="586.2" r="6.3"/><circle cx="804.5" cy="586.2" r="6.3"/><circle cx="827.0" cy="586.2" r="6.3"/><circle cx="731.4" cy="603.8" r="6.3"/><circle cx="737.6" cy="603.8" r="6.3"/><circle cx="745.1" cy="603.8" r="6.3"/><circle cx="787.0" cy="603.8" r="6.3"/><circle cx="840.8" cy="603.8" r="6.3"/><circle cx="726.0" cy="616.0" r="6.3"/><circle cx="754.5" cy="616.0" r="6.3"/><circle cx="778.2" cy="616.0" r="6.3"/><circle cx="788.2" cy="616.0" r="6.3"/><circle cx="822.6" cy="616.0" r="6.3"/><circle cx="739.2" cy="629.4" r="6.3"/><circle cx="753.0" cy="629.4" r="6.3"/><circle cx="791.4" cy="629.4" r="6.3"/><circle cx="802.0" cy="629.4" r="6.3"/><circle cx="815.8" cy="629.4" r="6.3"/><circle cx="742.0" cy="645.6" r="6.3"/><circle cx="762.0" cy="645.6" r="6.3"/><circle cx="772.0" cy="645.6" r="6.3"/><circle cx="778.2" cy="645.6" r="6.3"/><circle cx="785.1" cy="645.6" r="6.3"/><circle cx="799.5" cy="645.6" r="6.3"/><circle cx="803.9" cy="645.6" r="6.3"/><circle cx="828.6" cy="645.6" r="6.3"/><circle cx="742.6" cy="664.6" r="6.3"/><circle cx="746.4" cy="664.6" r="6.3"/><circle cx="768.9" cy="664.6" r="6.3"/><circle cx="780.8" cy="664.6" r="6.3"/><circle cx="787.0" cy="664.6" r="6.3"/><circle cx="793.2" cy="664.6" r="6.3"/><circle cx="799.5" cy="664.6" r="6.3"/><circle cx="805.1" cy="664.6" r="6.3"/><circle cx="825.1" cy="664.6" r="6.3"/><circle cx="833.2" cy="664.6" r="6.3"/><circle cx="753.2" cy="687.5" r="6.3"/><circle cx="788.9" cy="687.5" r="6.3"/><circle cx="795.1" cy="687.5" r="6.3"/><circle cx="801.4" cy="687.5" r="6.3"/><circle cx="825.1" cy="687.5" r="6.3"/><circle cx="843.2" cy="687.5" r="6.3"/><circle cx="889.0" cy="478.9" r="6.3"/><circle cx="897.8" cy="478.9" r="6.3"/><circle cx="915.2" cy="478.9" r="6.3"/><circle cx="965.9" cy="478.9" r="6.3"/><circle cx="876.2" cy="497.6" r="6.3"/><circle cx="891.1" cy="497.6" r="6.3"/><circle cx="906.0" cy="497.6" r="6.3"/><circle cx="848.4" cy="515.5" r="6.3"/><circle cx="847.8" cy="523.0" r="6.3"/><circle cx="846.5" cy="530.5" r="6.3"/><circle cx="845.9" cy="538.0" r="6.3"/><circle cx="859.4" cy="520.5" r="6.3"/><circle cx="871.5" cy="520.5" r="6.3"/><circle cx="876.9" cy="531.8" r="6.3"/><circle cx="964.9" cy="520.6" r="6.3"/><circle cx="890.2" cy="557.6" r="6.3"/><circle cx="888.8" cy="573.9" r="6.3"/><circle cx="750.8" cy="373.5" r="6.3"/><circle cx="752.0" cy="381.0" r="6.3"/><circle cx="732.0" cy="493.6" r="6.3"/><circle cx="754.5" cy="494.5" r="6.3"/><circle cx="760.8" cy="495.2" r="6.3"/><circle cx="765.1" cy="494.5" r="6.3"/><circle cx="726.4" cy="494.9" r="6.3"/><circle cx="297.6" cy="152.2" r="6.3"/><circle cx="393.9" cy="152.0" r="6.3"/><circle cx="427.5" cy="159.5" r="6.3"/><circle cx="405.7" cy="167.8" r="6.3"/><circle cx="390.1" cy="172.5" r="6.3"/><circle cx="404.9" cy="197.8" r="6.3"/><circle cx="427.0" cy="234.0" r="6.3"/><circle cx="429.5" cy="262.8" r="6.3"/><circle cx="400.7" cy="281.6" r="6.3"/><circle cx="416.5" cy="343.6" r="6.3"/><circle cx="406.4" cy="353.6" r="6.3"/><circle cx="450.8" cy="104.8" r="6.3"/><circle cx="558.4" cy="80.2" r="6.3"/><circle cx="625.8" cy="67.7" r="6.3"/><circle cx="652.4" cy="111.6" r="6.3"/><circle cx="599.2" cy="128.1" r="6.3"/><circle cx="495.4" cy="136.9" r="6.3"/><circle cx="481.6" cy="159.5" r="6.3"/><circle cx="607.3" cy="167.8" r="6.3"/><circle cx="675.0" cy="138.2" r="6.3"/><circle cx="674.5" cy="152.0" r="6.3"/><circle cx="677.5" cy="158.0" r="6.3"/><circle cx="676.5" cy="166.2" r="6.3"/><circle cx="497.9" cy="202.1" r="6.3"/><circle cx="470.6" cy="209.9" r="6.3"/><circle cx="552.1" cy="218.4" r="6.3"/><circle cx="655.9" cy="216.9" r="6.3"/><circle cx="606.3" cy="226.4" r="6.3"/><circle cx="470.4" cy="269.1" r="6.3"/><circle cx="562.9" cy="262.8" r="6.3"/><circle cx="578.2" cy="254.1" r="6.3"/><circle cx="563.9" cy="276.6" r="6.3"/><circle cx="579.9" cy="276.6" r="6.3"/><circle cx="560.4" cy="298.7" r="6.3"/><circle cx="515.2" cy="318.8" r="6.3"/><circle cx="522.8" cy="334.8" r="6.3"/><circle cx="551.6" cy="326.3" r="6.3"/><circle cx="565.1" cy="343.6" r="6.3"/><circle cx="522.0" cy="376.7" r="6.3"/><circle cx="560.4" cy="383.7" r="6.3"/><circle cx="560.9" cy="408.3" r="6.3"/><circle cx="579.9" cy="370.7" r="6.3"/><circle cx="580.4" cy="390.7" r="6.3"/><circle cx="579.2" cy="433.8" r="6.3"/><circle cx="585.5" cy="444.6" r="6.3"/><circle cx="589.2" cy="454.7" r="6.3"/><circle cx="550.8" cy="464.7" r="6.3"/><circle cx="557.9" cy="468.7" r="6.3"/><circle cx="502.0" cy="501.4" r="6.3"/><circle cx="582.2" cy="471.8" r="6.3"/><circle cx="583.9" cy="482.5" r="6.3"/><circle cx="561.9" cy="519.9" r="6.3"/><circle cx="569.9" cy="526.2" r="6.3"/><circle cx="580.4" cy="520.2" r="6.3"/><circle cx="579.2" cy="543.2" r="6.3"/><circle cx="582.4" cy="615.9" r="6.3"/><circle cx="635.6" cy="500.6" r="6.3"/><circle cx="638.1" cy="508.1" r="6.3"/><circle cx="644.4" cy="505.6" r="6.3"/><circle cx="669.5" cy="568.3" r="6.3"/><circle cx="657.7" cy="759.7" r="6.3"/><circle cx="613.0" cy="831.6" r="6.3"/><circle cx="624.3" cy="831.6" r="6.3"/><circle cx="627.6" cy="831.6" r="6.3"/><circle cx="646.9" cy="831.6" r="6.3"/><circle cx="656.4" cy="831.6" r="6.3"/><circle cx="672.7" cy="831.6" r="6.3"/><circle cx="678.2" cy="831.6" r="6.3"/><circle cx="684.5" cy="831.6" r="6.3"/><circle cx="769.0" cy="92.8" r="6.3"/><circle cx="836.9" cy="125.4" r="6.3"/><circle cx="714.6" cy="154.2" r="6.3"/><circle cx="711.8" cy="165.0" r="6.3"/><circle cx="694.5" cy="167.5" r="6.3"/><circle cx="787.3" cy="162.5" r="6.3"/><circle cx="788.3" cy="168.5" r="6.3"/><circle cx="779.5" cy="193.1" r="6.3"/><circle cx="745.4" cy="217.2" r="6.3"/><circle cx="876.1" cy="330.5" r="6.3"/><circle cx="905.6" cy="330.5" r="6.3"/><circle cx="700.0" cy="330.5" r="6.3"/><circle cx="760.2" cy="354.4" r="6.3"/><circle cx="790.3" cy="394.5" r="6.3"/><circle cx="868.5" cy="687.4" r="6.3"/><circle cx="850.0" cy="664.3" r="6.3"/><circle cx="877.6" cy="664.3" r="6.3"/><circle cx="902.1" cy="664.3" r="6.3"/><circle cx="850.5" cy="603.9" r="6.3"/><circle cx="869.3" cy="592.6" r="6.3"/><circle cx="891.1" cy="592.6" r="6.3"/><circle cx="925.7" cy="592.6" r="6.3"/><circle cx="739.6" cy="717.5" r="6.3"/><circle cx="750.9" cy="717.5" r="6.3"/><circle cx="762.2" cy="717.5" r="6.3"/><circle cx="777.3" cy="717.5" r="6.3"/><circle cx="789.0" cy="717.5" r="6.3"/><circle cx="826.7" cy="717.5" r="6.3"/><circle cx="829.9" cy="717.5" r="6.3"/><circle cx="851.2" cy="717.5" r="6.3"/><circle cx="869.8" cy="717.5" r="6.3"/><circle cx="877.6" cy="717.5" r="6.3"/><circle cx="743.4" cy="759.7" r="6.3"/><circle cx="751.4" cy="759.7" r="6.3"/><circle cx="760.2" cy="759.7" r="6.3"/><circle cx="777.8" cy="759.7" r="6.3"/><circle cx="781.5" cy="759.7" r="6.3"/><circle cx="803.3" cy="759.7" r="6.3"/><circle cx="828.7" cy="759.7" r="6.3"/><circle cx="831.7" cy="759.7" r="6.3"/><circle cx="876.8" cy="759.7" r="6.3"/><circle cx="716.3" cy="831.6" r="6.3"/><circle cx="722.6" cy="831.6" r="6.3"/><circle cx="731.4" cy="831.6" r="6.3"/><circle cx="857.5" cy="831.6" r="6.3"/><circle cx="869.3" cy="831.6" r="6.3"/><circle cx="875.1" cy="831.6" r="6.3"/><circle cx="749.2" cy="831.6" r="6.3"/><circle cx="752.7" cy="831.6" r="6.3"/><circle cx="756.2" cy="831.6" r="6.3"/><circle cx="759.7" cy="831.6" r="6.3"/><circle cx="763.2" cy="831.6" r="6.3"/><circle cx="766.7" cy="831.6" r="6.3"/><circle cx="770.2" cy="831.6" r="6.3"/><circle cx="773.8" cy="831.6" r="6.3"/><circle cx="777.3" cy="831.6" r="6.3"/><circle cx="780.8" cy="831.6" r="6.3"/><circle cx="784.3" cy="831.6" r="6.3"/><circle cx="787.8" cy="831.6" r="6.3"/><circle cx="791.3" cy="831.6" r="6.3"/><circle cx="794.8" cy="831.6" r="6.3"/><circle cx="798.3" cy="831.6" r="6.3"/><circle cx="801.8" cy="831.6" r="6.3"/><circle cx="805.3" cy="831.6" r="6.3"/><circle cx="808.9" cy="831.6" r="6.3"/><circle cx="812.4" cy="831.6" r="6.3"/><circle cx="815.9" cy="831.6" r="6.3"/><circle cx="819.4" cy="831.6" r="6.3"/><circle cx="822.9" cy="831.6" r="6.3"/><circle cx="826.4" cy="831.6" r="6.3"/><circle cx="829.9" cy="831.6" r="6.3"/><circle cx="833.4" cy="831.6" r="6.3"/><circle cx="836.9" cy="831.6" r="6.3"/><circle cx="840.5" cy="831.6" r="6.3"/><circle cx="844.0" cy="831.6" r="6.3"/><circle cx="847.5" cy="831.6" r="6.3"/><circle cx="1010.7" cy="497.1" r="6.3"/><circle cx="967.1" cy="592.4" r="6.3"/><circle cx="1009.0" cy="592.4" r="6.3"/><circle cx="843.5" cy="535.5" r="6.3"/>
</g>
<g fill="#000">
<path d="M347.5 119.1l7.5 12h-15z"/><path d="M396.1 115.1l7.5 12h-15z"/><path d="M399.9 173.0l7.5 12h-15z"/><path d="M414.7 173.7l7.5 12h-15z"/><path d="M374.6 182.3l7.5 12h-15z"/><path d="M404.9 212.6l7.5 12h-15z"/><path d="M432.0 209.8l7.5 12h-15z"/><path d="M258.0 267.8l7.5 12h-15z"/><path d="M336.5 278.6l7.5 12h-15z"/><path d="M381.1 263.6l7.5 12h-15z"/><path d="M392.4 279.1l7.5 12h-15z"/><path d="M411.9 281.1l7.5 12h-15z"/><path d="M423.2 274.1l7.5 12h-15z"/><path d="M429.5 277.9l7.5 12h-15z"/><path d="M413.7 308.7l7.5 12h-15z"/><path d="M420.2 322.2l7.5 12h-15z"/><path d="M422.2 367.6l7.5 12h-15z"/><path d="M367.6 422.0l7.5 12h-15z"/><path d="M463.6 64.7l7.5 12h-15z"/><path d="M473.9 109.0l7.5 12h-15z"/><path d="M478.6 115.8l7.5 12h-15z"/><path d="M468.6 132.4l7.5 12h-15z"/><path d="M475.1 161.7l7.5 12h-15z"/><path d="M623.1 138.9l7.5 12h-15z"/><path d="M525.3 182.5l7.5 12h-15z"/><path d="M531.0 181.3l7.5 12h-15z"/><path d="M466.6 191.0l7.5 12h-15z"/><path d="M465.1 226.9l7.5 12h-15z"/><path d="M465.6 240.7l7.5 12h-15z"/><path d="M520.3 243.5l7.5 12h-15z"/><path d="M457.6 269.8l7.5 12h-15z"/><path d="M474.4 270.8l7.5 12h-15z"/><path d="M483.4 271.6l7.5 12h-15z"/><path d="M476.6 335.5l7.5 12h-15z"/><path d="M452.6 386.2l7.5 12h-15z"/><path d="M484.4 409.5l7.5 12h-15z"/><path d="M508.2 424.0l7.5 12h-15z"/><path d="M480.6 451.6l7.5 12h-15z"/>
</g>
<g fill="#ff0000">
<rect x="215.9" y="346" width="15" height="15"/>
<rect x="172.3" y="513" width="15" height="15"/>
</g>
<rect x="180.3" y="0.9" width="830.2" height="830.7" fill="none" stroke="#000" stroke-width="2.8"/>
<g font-size="35">
<text x="307.4" y="878" text-anchor="middle">0.1</text>
<text x="485.6" y="878" text-anchor="middle">1</text>
<text x="664.7" y="878" text-anchor="middle">10</text>
<text x="842.6" y="878" text-anchor="middle">100</text>
<text x="159.5" y="843.7" text-anchor="end">1</text>
<text x="159.5" y="604.9" text-anchor="end">10</text>
<text x="159.5" y="366.0" text-anchor="end">100</text>
<text x="159.5" y="127.2" text-anchor="end">1000</text>
<text x="594" y="929.5" text-anchor="middle">Diameter, D [km]</text>
<text transform="translate(36.9,417) rotate(-90)" text-anchor="middle">Thermal inertia,&#160; Γ [J m<tspan font-size="28" dy="-16.5">-2</tspan><tspan dy="16.5"> K</tspan><tspan font-size="28" dy="-16.5">-1</tspan><tspan dy="16.5"> s</tspan><tspan font-size="28" dy="-16.5">-1/2</tspan><tspan dy="16.5">]</tspan></text>
</g>
<g font-size="31" fill="#ff0000">
<text x="195.5" y="389.5" style="fill:#ff0000">2011 PT</text>
<text x="187" y="554.5" style="fill:#ff0000">2016 GE1</text>
</g>
</svg>
</body></html>
